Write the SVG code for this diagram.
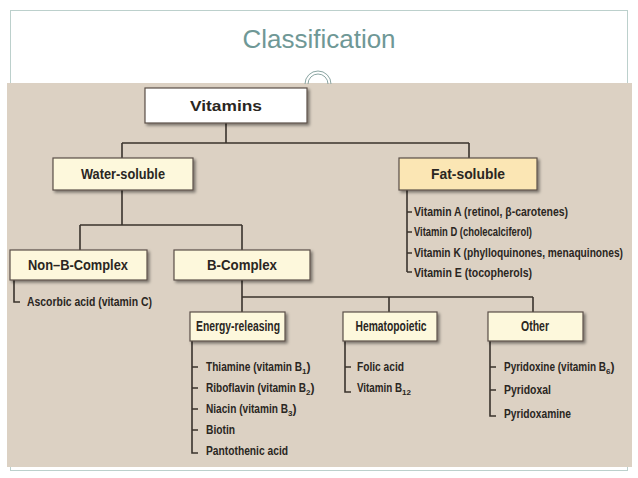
<svg xmlns="http://www.w3.org/2000/svg" width="638" height="478" viewBox="0 0 638 478">
<style>
.t{font-family:"Liberation Sans",Arial,sans-serif;font-weight:bold;fill:#2a2622}
.b{font-size:15px;text-anchor:middle}
.s{font-size:12px}
.box{stroke:#5a5048;stroke-width:1.2}
.ln{stroke:#3a332d;stroke-width:1.6;fill:none}
</style>
<defs>
<filter id="sh" x="-10%" y="-10%" width="130%" height="140%"><feDropShadow dx="2" dy="2" stdDeviation="1.5" flood-color="#000" flood-opacity="0.45"/></filter>
</defs>
<rect x="0" y="0" width="638" height="478" fill="#fff"/>
<rect x="10.5" y="10.5" width="617" height="460" fill="none" stroke="#bcd0cc"/>
<text x="319" y="48" text-anchor="middle" font-family="Liberation Sans,sans-serif" font-size="26" fill="#6f9896">Classification</text>
<rect x="7" y="83" width="625" height="384" fill="#dcd1c3"/>
<path d="M305 84 A13 13 0 0 1 331 84 M308 84 A10 10 0 0 1 328 84" fill="none" stroke="#8aa5a2" stroke-width="1"/>
<g id="connectors" class="ln">
<path d="M226 123V143M122 143H469M122 143V158M469 143V158"/>
<path d="M122 190V225M80 225H242M80 225V250M242 225V250"/>
<path d="M407 190V272M407 212H412M407 232H412M407 253H412M407 272H412"/>
<path d="M14 280V302H20"/>
<path d="M242 280V297M242 297H533M242 297V312M389 297V312M533 297V312"/>
<path d="M192 341V453H198M192 367H198M192 388H198M192 409H198M192 430H198"/>
<path d="M345 341V392H351M345 367H351"/>
<path d="M490 341V416H496M490 367H496M490 390H496"/>
</g>
<g id="vitamins"><rect class="box" x="145" y="88" width="162" height="35" fill="#fff" filter="url(#sh)"/><text class="t b" x="226" y="111" font-size="17" textLength="72" lengthAdjust="spacingAndGlyphs">Vitamins</text></g>
<g id="water"><rect class="box" x="53" y="158" width="140" height="32" fill="#fdf8dc" filter="url(#sh)"/><text class="t b" x="123" y="179" textLength="84" lengthAdjust="spacingAndGlyphs">Water-soluble</text></g>
<g id="fat"><rect class="box" x="399" y="158" width="138" height="32" fill="#fbe6b4" filter="url(#sh)"/><text class="t b" x="468" y="179" textLength="74" lengthAdjust="spacingAndGlyphs">Fat-soluble</text>
<text class="t s" x="414" y="216" textLength="154" lengthAdjust="spacingAndGlyphs">Vitamin A (retinol, β-carotenes)</text>
<text class="t s" x="414" y="236" textLength="118" lengthAdjust="spacingAndGlyphs">Vitamin D (cholecalciferol)</text>
<text class="t s" x="414" y="257" textLength="209" lengthAdjust="spacingAndGlyphs">Vitamin K (phylloquinones, menaquinones)</text>
<text class="t s" x="414" y="277" textLength="118" lengthAdjust="spacingAndGlyphs">Vitamin E (tocopherols)</text></g>
<g id="nonb"><rect class="box" x="10" y="250" width="137" height="30" fill="#fdf8dc" filter="url(#sh)"/><text class="t b" x="78" y="270" textLength="100" lengthAdjust="spacingAndGlyphs">Non–B-Complex</text>
<text class="t s" x="27" y="306" textLength="125" lengthAdjust="spacingAndGlyphs">Ascorbic acid (vitamin C)</text></g>
<g id="bcomplex"><rect class="box" x="174" y="250" width="136" height="30" fill="#fdf8dc" filter="url(#sh)"/><text class="t b" x="242" y="270" textLength="70" lengthAdjust="spacingAndGlyphs">B-Complex</text></g>
<g id="energy"><rect class="box" x="190" y="312" width="95" height="29" fill="#fdf8dc" filter="url(#sh)"/><text class="t b" x="238" y="331" font-size="12" textLength="84" lengthAdjust="spacingAndGlyphs">Energy-releasing</text>
<text class="t s" x="206" y="371"><tspan textLength="96" lengthAdjust="spacingAndGlyphs">Thiamine (vitamin B</tspan><tspan font-size="8" dy="3">1</tspan><tspan dy="-3">)</tspan></text>
<text class="t s" x="206" y="392"><tspan textLength="100" lengthAdjust="spacingAndGlyphs">Riboflavin (vitamin B</tspan><tspan font-size="8" dy="3">2</tspan><tspan dy="-3">)</tspan></text>
<text class="t s" x="206" y="413"><tspan textLength="82" lengthAdjust="spacingAndGlyphs">Niacin (vitamin B</tspan><tspan font-size="8" dy="3">3</tspan><tspan dy="-3">)</tspan></text>
<text class="t s" x="206" y="434" textLength="29" lengthAdjust="spacingAndGlyphs">Biotin</text>
<text class="t s" x="206" y="455" textLength="82" lengthAdjust="spacingAndGlyphs">Pantothenic acid</text></g>
<g id="hemato"><rect class="box" x="343" y="312" width="94" height="29" fill="#fdf8dc" filter="url(#sh)"/><text class="t b" x="391" y="331" font-size="12" textLength="71" lengthAdjust="spacingAndGlyphs">Hematopoietic</text>
<text class="t s" x="357" y="371" textLength="47" lengthAdjust="spacingAndGlyphs">Folic acid</text>
<text class="t s" x="357" y="392"><tspan textLength="45" lengthAdjust="spacingAndGlyphs">Vitamin B</tspan><tspan font-size="8" dy="3">12</tspan></text></g>
<g id="other"><rect class="box" x="488" y="312" width="95" height="29" fill="#fdf8dc" filter="url(#sh)"/><text class="t b" x="535" y="331" font-size="12" textLength="28" lengthAdjust="spacingAndGlyphs">Other</text>
<text class="t s" x="504" y="371"><tspan textLength="102" lengthAdjust="spacingAndGlyphs">Pyridoxine (vitamin B</tspan><tspan font-size="8" dy="3">6</tspan><tspan dy="-3">)</tspan></text>
<text class="t s" x="504" y="394" textLength="47" lengthAdjust="spacingAndGlyphs">Pyridoxal</text>
<text class="t s" x="504" y="418" textLength="67" lengthAdjust="spacingAndGlyphs">Pyridoxamine</text></g>
</svg>
